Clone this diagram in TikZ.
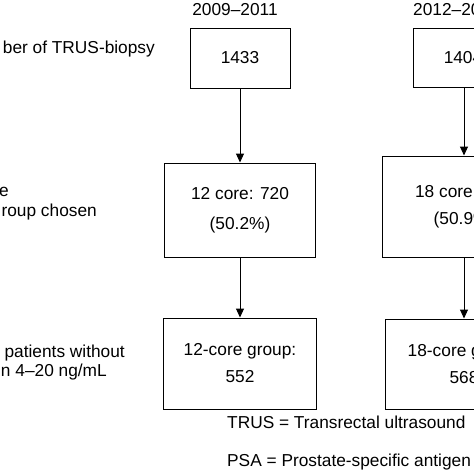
\documentclass[tikz,border=0pt]{standalone}
\usepackage{fontspec}
\setmainfont{Liberation Sans}
\usetikzlibrary{arrows.meta}
\tikzset{
  box/.style={draw, line width=1pt, align=center, inner sep=0pt},
  arr/.style={line width=1pt, -{Triangle[length=9pt,width=8pt]}},
  lbl/.style={inner sep=0pt, align=left}
}
\begin{document}
\begin{tikzpicture}[x=1pt,y=-1pt,font=\fontsize{17.3}{20}\selectfont]
  \useasboundingbox (0,0) rectangle (474,474);
  \clip (0,0) rectangle (474,474);

  % period headings
  \node[lbl] (h1) at (235,10) {2009–2011};
  \node[lbl,anchor=west] (h2) at (413,10) {2012–2014};

  % first column
  \node[box,minimum width=100pt,minimum height=60pt] (a1) at (240,58) {1433};
  \node[box,minimum width=151pt,minimum height=94pt,font=\fontsize{17.3}{30}\selectfont] (a2) at (240,210) {12 core: 720\\(50.2\%)};
  \node[box,minimum width=153pt,minimum height=91pt,font=\fontsize{17.3}{27}\selectfont] (a3) at (240,363.5) {12-core group:\\552};

  % second column
  \node[box,minimum width=100pt,minimum height=59pt] (b1) at (463,57.5) {1404};
  \node[box,minimum width=164pt,minimum height=101pt,font=\fontsize{17.3}{27}\selectfont] (b2) at (464,206.5) {18 core: 715\\(50.9\%)};
  \node[box,minimum width=158pt,minimum height=90pt,font=\fontsize{17.3}{27}\selectfont] (b3) at (464,364) {18-core group:\\568};

  \draw[arr] (a1.south) -- (a2.north);
  \draw[arr] (a2.south) -- (a3.north);
  \draw[arr] (b1.south -| 464,0) -- (b2.north);
  \draw[arr] (b2.south) -- (b3.north);

  % row labels
  \node[lbl,anchor=east] (r1) at (155,49) {ber of TRUS-biopsy};
  \node[lbl,anchor=east] (r2a) at (9,192) {e};
  \node[lbl,anchor=east] (r2b) at (97,212) {roup chosen};
  \node[lbl,anchor=east] (r3a) at (125,353) {patients without};
  \node[lbl,anchor=east] (r3b) at (107,372) {n 4–20 ng/mL};

  % abbreviations
  \node[lbl,anchor=west] (k1) at (227,422) {TRUS = Transrectal ultrasound};
  \node[lbl,anchor=west] (k2) at (227,462) {PSA = Prostate-specific antigen};
\end{tikzpicture}
\end{document}
